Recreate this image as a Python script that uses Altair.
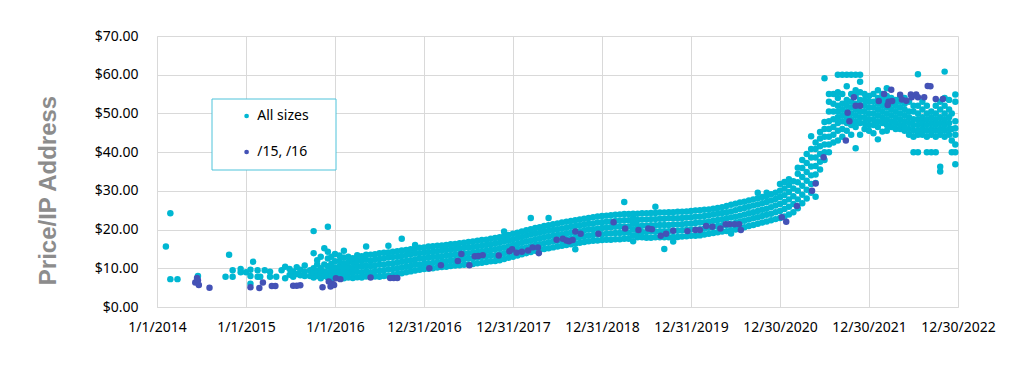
import altair as alt
import pandas as pd

CYAN = "#00B7D2"
DARK = "#4452B6"

series_names = ["All sizes", "/15, /16"]

x_tick_years = list(range(2014, 2024))
x_tick_labels = ["1/1/2014", "1/1/2015", "1/1/2016", "12/31/2016", "12/31/2017",
                 "12/31/2018", "12/31/2019", "12/30/2020", "12/30/2021", "12/30/2022"]
y_ticks = [0, 10, 20, 30, 40, 50, 60, 70]

# "All sizes" — (decimal year, [prices at that date])
all_early = [
    (2014.10, [15.6]), (2014.15, [24.2, 7.2]), (2014.23, [7.2]), (2014.46, [8.0]),
    (2014.77, [7.8]), (2014.81, [13.5]), (2014.85, [9.5, 7.8]), (2014.94, [9.8, 9.0]),
    (2015.00, [9.0]), (2015.05, [9.6, 8.0, 6.0]), (2015.08, [11.7]), (2015.13, [9.5, 7.8]),
    (2015.16, [7.8]), (2015.21, [9.5]), (2015.27, [9.1, 7.8]), (2015.34, [7.8]),
    (2015.40, [9.5]), (2015.44, [10.4, 7.4]), (2015.49, [9.8, 8.3]), (2015.53, [9.2, 7.8]),
    (2015.57, [8.5, 10.3]), (2015.61, [9.6, 8.2]), (2015.66, [10.7, 9.1, 8.0]), (2015.72, [9.5, 8.0]),
    (2015.76, [19.6, 13.9, 10.0, 8.8, 7.6]), (2015.80, [12.1, 11.0, 9.3, 8.0]),
    (2015.84, [13.0, 10.0, 8.5, 7.4]), (2015.88, [15.2, 11.0, 9.2, 8.0]),
    (2015.92, [20.7, 14.3, 12.5, 10.5, 9.0, 7.6]), (2015.96, [13.0, 11.2, 9.8, 8.5, 7.4]),
    (2016.00, [13.7, 11.8, 10.2, 9.0, 7.8]),
]

all_band = [
    (2016.05, [7.8, 9.2, 10.5, 11.9, 13.3]),
    (2016.10, [7.4, 8.6, 10.0, 11.3, 12.8, 14.5]),
    (2016.15, [7.6, 9.0, 10.3, 11.6, 13.0]),
    (2016.20, [7.5, 8.8, 10.1, 11.5, 12.6]),
    (2016.25, [7.7, 9.1, 10.6, 12.0, 13.4]),
    (2016.30, [7.6, 8.9, 10.4, 11.8, 13.1]),
    (2016.35, [7.9, 9.3, 10.7, 12.2, 13.5, 15.6]),
    (2016.40, [7.8, 9.0, 10.5, 11.9, 13.5]),
    (2016.45, [7.9, 9.3, 10.8, 12.3, 13.6]),
    (2016.50, [7.8, 9.3, 10.9, 12.4, 13.9]),
    (2016.55, [8.0, 9.5, 11.0, 12.6, 14.0]),
    (2016.60, [8.1, 9.7, 11.2, 12.8, 14.1, 15.8]),
    (2016.65, [8.3, 9.8, 11.3, 12.9, 14.3]),
    (2016.70, [8.5, 10.0, 11.5, 13.0, 14.4]),
    (2016.75, [8.7, 10.2, 11.7, 13.2, 14.6, 17.6]),
    (2016.80, [9.0, 10.4, 11.9, 13.4, 14.7]),
    (2016.85, [9.2, 10.6, 12.1, 13.6, 14.9]),
    (2016.90, [9.4, 10.9, 12.3, 13.8, 15.1, 16.0]),
    (2016.95, [9.6, 11.0, 12.5, 13.9, 15.3]),
    (2017.00, [9.8, 11.2, 12.6, 14.0, 15.4]),
    (2017.05, [9.9, 11.3, 12.8, 14.2, 15.6]),
    (2017.10, [10.0, 11.4, 12.9, 14.3, 15.7]),
    (2017.15, [10.2, 11.6, 13.0, 14.4, 15.8]),
    (2017.20, [10.3, 11.7, 13.1, 14.6, 15.9]),
    (2017.25, [10.4, 11.8, 13.3, 14.7, 16.0]),
    (2017.30, [10.6, 12.0, 13.4, 14.8, 16.2]),
    (2017.35, [10.7, 12.1, 13.5, 15.0, 16.3]),
    (2017.40, [10.8, 12.2, 13.7, 15.1, 16.5]),
    (2017.45, [10.9, 12.4, 13.8, 15.3, 16.6]),
    (2017.50, [11.0, 12.5, 13.9, 15.4, 16.8]),
    (2017.55, [11.1, 12.6, 14.1, 15.5, 16.9]),
    (2017.60, [11.3, 12.8, 14.2, 15.7, 17.1]),
    (2017.65, [11.4, 12.9, 14.4, 15.8, 17.3]),
    (2017.70, [11.6, 13.1, 14.5, 16.0, 17.4]),
    (2017.75, [11.8, 13.3, 14.7, 16.2, 17.6]),
    (2017.80, [11.9, 13.4, 14.9, 16.4, 17.8]),
    (2017.85, [12.1, 13.6, 15.1, 16.6, 18.0]),
    (2017.90, [12.4, 13.9, 15.4, 16.9, 18.3, 19.5]),
    (2017.95, [12.7, 14.2, 15.7, 17.2, 18.6]),
    (2018.00, [13.0, 14.5, 16.0, 17.5, 18.9]),
    (2018.05, [13.3, 14.8, 16.3, 17.8, 19.2]),
    (2018.10, [13.6, 15.1, 16.6, 18.1, 19.5]),
    (2018.15, [13.9, 15.4, 16.9, 18.4, 19.8]),
    (2018.20, [14.2, 15.7, 17.2, 18.7, 20.1, 23.0]),
    (2018.25, [14.5, 16.0, 17.5, 19.0, 20.4]),
    (2018.30, [14.7, 16.2, 17.7, 19.2, 20.6]),
    (2018.35, [15.0, 16.5, 18.0, 19.5, 20.9]),
    (2018.40, [15.2, 16.7, 18.2, 19.7, 21.1, 23.0]),
    (2018.45, [15.4, 16.9, 18.4, 19.9, 21.4]),
    (2018.50, [15.6, 17.1, 18.6, 20.1, 21.6]),
    (2018.55, [15.8, 17.3, 18.8, 20.3, 21.8]),
    (2018.60, [16.0, 17.5, 19.0, 20.5, 22.0]),
    (2018.65, [16.2, 17.7, 19.2, 20.7, 22.2]),
    (2018.70, [14.9, 16.4, 17.9, 19.4, 20.9, 22.4]),
    (2018.75, [16.6, 18.1, 19.6, 21.1, 22.6]),
    (2018.80, [16.8, 18.3, 19.8, 21.3, 22.8]),
    (2018.85, [17.0, 18.5, 20.0, 21.5, 23.0]),
    (2018.90, [17.1, 18.6, 20.1, 21.6, 23.2]),
    (2018.95, [17.2, 18.7, 20.2, 21.8, 23.4]),
    (2019.00, [17.3, 18.8, 20.4, 21.9, 23.5]),
    (2019.05, [17.4, 18.9, 20.5, 22.0, 23.6]),
    (2019.10, [17.4, 19.0, 20.6, 22.1, 23.7]),
    (2019.15, [17.5, 19.1, 20.7, 22.2, 23.8]),
    (2019.20, [17.5, 19.1, 20.7, 22.3, 23.9]),
    (2019.25, [17.6, 19.2, 20.8, 22.4, 24.0, 27.1]),
    (2019.30, [17.6, 19.2, 20.8, 22.4, 24.0]),
    (2019.35, [17.0, 18.5, 20.0, 21.5, 23.0, 24.1]),
    (2019.40, [18.0, 19.3, 20.9, 22.5, 24.1]),
    (2019.45, [18.0, 19.4, 21.0, 22.6, 24.2]),
    (2019.50, [17.9, 19.4, 21.0, 22.6, 24.2]),
    (2019.55, [17.9, 19.5, 21.1, 22.7, 24.3]),
    (2019.60, [18.0, 19.5, 21.1, 22.7, 24.3, 25.9]),
    (2019.65, [18.0, 19.6, 21.2, 22.8, 24.4]),
    (2019.70, [15.0, 18.0, 19.6, 21.2, 22.8, 24.4]),
    (2019.75, [18.0, 19.6, 21.2, 22.9, 24.5]),
    (2019.80, [16.9, 18.1, 19.7, 21.3, 22.9, 24.5]),
    (2019.85, [18.1, 19.7, 21.3, 22.9, 24.6]),
    (2019.90, [18.2, 19.8, 21.4, 23.0, 24.6]),
    (2019.95, [18.3, 19.9, 21.5, 23.1, 24.7]),
    (2020.00, [18.4, 20.0, 21.6, 23.2, 24.8]),
    (2020.05, [18.4, 20.0, 21.7, 23.3, 24.9]),
    (2020.10, [18.5, 20.1, 21.8, 23.4, 25.0]),
    (2020.15, [18.7, 20.3, 21.9, 23.5, 25.1]),
    (2020.20, [18.9, 20.5, 22.1, 23.7, 25.2]),
    (2020.25, [19.1, 20.7, 22.3, 23.9, 25.4]),
    (2020.30, [19.3, 20.9, 22.5, 24.1, 25.6]),
    (2020.35, [19.5, 21.1, 22.7, 24.3, 25.8]),
    (2020.40, [19.6, 21.2, 22.9, 24.5, 26.1]),
    (2020.45, [19.0, 19.8, 21.4, 23.1, 24.7, 26.4]),
    (2020.50, [20.0, 21.7, 23.3, 25.0, 26.7]),
    (2020.55, [20.3, 22.0, 23.6, 25.3, 27.0]),
    (2020.60, [20.6, 22.3, 23.9, 25.6, 27.2]),
    (2020.65, [20.9, 22.6, 24.2, 25.9, 27.5]),
    (2020.70, [21.2, 22.9, 24.5, 26.2, 27.8]),
    (2020.75, [21.5, 23.2, 24.8, 26.5, 28.1, 29.5]),
    (2020.80, [21.8, 23.5, 25.1, 26.8, 28.4]),
    (2020.85, [22.1, 23.8, 25.4, 27.1, 28.7, 29.5]),
    (2020.90, [22.4, 24.1, 25.8, 27.5, 29.1]),
    (2020.95, [22.7, 24.5, 26.2, 27.9, 29.5]),
    (2021.00, [23.0, 24.8, 26.6, 28.4, 30.0, 31.8]),
    (2021.05, [23.4, 25.3, 27.1, 28.9, 30.6, 32.3]),
    (2021.10, [23.9, 25.9, 27.8, 29.7, 31.5, 33.0]),
    (2021.15, [24.5, 26.6, 28.6, 30.6, 32.5]),
    (2021.20, [25.5, 27.8, 30.0, 32.2, 34.4, 36.0]),
    (2021.25, [26.8, 29.0, 31.3, 33.6, 35.9, 38.0]),
    (2021.30, [28.0, 30.3, 32.6, 34.9, 37.2, 39.5]),
    (2021.35, [29.5, 31.8, 34.0, 36.3, 38.6, 40.8, 44.1]),
    (2021.40, [28.5, 32.0, 34.2, 36.4, 38.6, 40.8, 42.5]),
    (2021.45, [35.5, 37.5, 39.5, 41.5, 43.5, 45.2]),
    (2021.50, [38.0, 40.0, 42.0, 44.0, 46.0, 47.8, 59.1]),
    (2021.55, [40.0, 42.0, 44.0, 46.0, 48.0, 50.5, 53.0, 55.0]),
]

all_plateau = [
    (2021.60, [42.5, 44.5, 46.5, 48.5, 50.5, 52.5, 55.0]),
    (2021.65, [43.0, 45.5, 47.5, 49.0, 50.5, 52.0, 54.0, 55.5, 60.0]),
    (2021.70, [44.0, 46.0, 48.0, 49.5, 51.0, 52.5, 55.0, 60.0]),
    (2021.75, [45.5, 47.5, 49.0, 50.5, 52.0, 53.5, 57.0, 60.0]),
    (2021.80, [44.5, 47.0, 48.5, 50.0, 51.5, 53.0, 55.0, 60.0]),
    (2021.85, [41.0, 46.5, 48.0, 49.5, 51.0, 52.5, 54.5, 56.0, 60.0]),
    (2021.90, [44.5, 47.5, 49.0, 50.5, 52.0, 53.5, 55.5, 58.2, 60.0]),
    (2021.95, [46.0, 47.5, 49.0, 50.5, 52.0, 53.5, 55.0]),
    (2022.00, [45.5, 47.0, 48.5, 50.0, 51.5, 53.0, 54.5]),
    (2022.05, [44.9, 47.0, 48.5, 50.0, 51.5, 53.0, 55.0]),
    (2022.10, [43.3, 46.5, 48.0, 49.5, 51.0, 52.5, 54.0, 56.0]),
    (2022.15, [45.3, 47.5, 49.0, 50.5, 52.0, 53.5, 55.0]),
    (2022.20, [45.5, 47.0, 48.5, 50.0, 51.5, 53.0, 54.5, 56.5]),
    (2022.25, [46.5, 48.0, 49.5, 51.0, 52.5, 54.0]),
    (2022.30, [46.0, 47.5, 49.0, 50.5, 52.0, 53.5]),
    (2022.35, [46.0, 47.0, 48.5, 50.0, 51.5, 53.0, 54.5]),
    (2022.40, [45.5, 46.5, 48.0, 49.5, 51.0, 52.5, 54.0]),
    (2022.45, [44.5, 46.0, 47.5, 49.0, 50.5, 53.0]),
    (2022.50, [40.0, 44.0, 45.5, 47.0, 48.5, 50.5, 52.0]),
    (2022.55, [40.0, 44.5, 45.5, 47.0, 48.5, 50.0, 52.0, 60.1]),
    (2022.60, [44.5, 46.0, 47.5, 49.0, 51.0, 53.0]),
    (2022.65, [40.0, 44.0, 45.5, 47.0, 48.5, 50.0, 52.0]),
    (2022.70, [40.0, 44.5, 46.0, 47.5, 49.0, 50.5]),
    (2022.75, [40.0, 44.0, 45.5, 47.0, 48.5, 50.0, 52.0]),
    (2022.80, [35.0, 36.2, 44.5, 46.0, 47.5, 49.0, 51.0, 53.0]),
    (2022.85, [44.0, 45.5, 47.0, 48.5, 50.0, 52.0, 54.0, 60.8]),
    (2022.90, [44.5, 46.0, 47.5, 49.0, 51.0, 53.5]),
    (2022.93, [40.0, 43.0, 46.0, 50.0]),
    (2022.97, [40.0, 36.9, 42.0, 44.5, 46.2, 48.0, 53.0, 54.9]),
]

# "/15, /16"
dark_years = [
    2014.43, 2014.45, 2014.46, 2014.47, 2014.59,
    2015.05, 2015.15, 2015.19, 2015.29, 2015.33,
    2015.53, 2015.57, 2015.61, 2015.86,
    2015.93, 2015.95, 2015.97, 2015.99,
    2016.01, 2016.06,
    2016.40, 2016.62, 2016.66, 2016.70,
    2017.06, 2017.19, 2017.38, 2017.42, 2017.51,
    2017.57, 2017.61, 2017.66, 2017.84, 2017.96, 2017.99,
    2018.04, 2018.10, 2018.17, 2018.22, 2018.28, 2018.29,
    2018.49, 2018.56, 2018.60, 2018.63, 2018.67, 2018.70, 2018.76,
    2018.96, 2019.13, 2019.26, 2019.41, 2019.52, 2019.56,
    2019.66, 2019.72, 2019.80, 2019.96, 2020.05, 2020.10,
    2020.17, 2020.24, 2020.33, 2020.39, 2020.43, 2020.49, 2020.54, 2020.56,
    2021.02, 2021.07, 2021.19, 2021.36, 2021.40, 2021.49,
    2021.74, 2021.78, 2021.76, 2021.83, 2021.85, 2021.90,
    2022.11, 2022.17, 2022.22, 2022.21, 2022.25, 2022.26,
    2022.35, 2022.37, 2022.42, 2022.47, 2022.48, 2022.53, 2022.55,
    2022.62, 2022.66, 2022.69, 2022.75, 2022.83,
]
dark_prices = [
    6.3, 7.5, 6.9, 5.7, 5.0,
    5.1, 4.9, 6.3, 5.4, 5.4,
    5.5, 5.5, 5.6, 5.1,
    6.6, 5.3, 6.0, 5.7,
    7.4, 7.2,
    7.6, 7.5, 7.5, 7.5,
    10.0, 10.8, 11.9, 13.7, 10.8,
    13.1, 13.2, 13.4, 13.3, 14.4, 14.9,
    14.0, 14.3, 14.6, 15.4, 15.4, 13.9,
    17.4, 17.6, 17.2, 17.0, 17.3, 19.5, 18.9,
    18.9, 21.9, 20.3, 19.9, 20.3, 20.1,
    18.4, 18.9, 19.7, 19.6, 19.9, 19.9,
    20.9, 20.7, 20.3, 21.4, 21.4, 21.4, 21.4, 19.9,
    23.2, 22.0, 26.1, 30.0, 31.9, 38.7,
    43.0, 48.0, 50.2, 54.2, 52.0, 52.0,
    53.2, 55.0, 53.0, 52.2, 56.1, 53.2,
    54.8, 53.6, 53.3, 54.9, 54.2, 54.9, 54.2,
    54.2, 57.1, 57.0, 53.7, 53.7,
]

rows = []
for yr, prices in all_early + all_band + all_plateau:
    for p in prices:
        rows.append({"year": yr, "price": p, "series": series_names[0]})
for yr, p in zip(dark_years, dark_prices):
    rows.append({"year": yr, "price": p, "series": series_names[1]})
df = pd.DataFrame(rows)

label_expr = "[" + ",".join(f"'{s}'" for s in x_tick_labels) + "][round(datum.value) - 2014]"

points = alt.Chart(df).mark_circle(size=42, opacity=1).encode(
    x=alt.X("year:Q",
            scale=alt.Scale(domain=[2014, 2023], nice=False, zero=False),
            axis=alt.Axis(values=x_tick_years, labelExpr=label_expr, title=None,
                          labelPadding=13, labelFlush=False, labelOverlap=False)),
    y=alt.Y("price:Q",
            scale=alt.Scale(domain=[0, 70], nice=False),
            axis=alt.Axis(values=y_ticks, format="$.2f", title="Price/IP Address",
                          labelPadding=19, titleFont="Liberation Sans", titleFontSize=24,
                          titleFontWeight="bold", titleColor="#8C8C8C", titleAngle=270,
                          titleAlign="center", titleBaseline="middle",
                          titleX=-109, titleY=154)),
    color=alt.Color("series:N",
                    scale=alt.Scale(domain=series_names, range=[CYAN, DARK]),
                    legend=alt.Legend(title=None, orient="none", legendX=82.6, legendY=73,
                                      labelFont="Noto Sans", labelFontSize=14, labelColor="#000000",
                                      symbolType="circle", symbolSize=22, symbolStrokeWidth=0,
                                      symbolOpacity=1, rowPadding=22, labelOffset=3.7, padding=0)),
)

frame = alt.Chart(pd.DataFrame({"k": [0]})).mark_rect(
    fill="white", stroke="#4FC3DA", strokeWidth=1
).encode(x=alt.value(55), x2=alt.value(179), y=alt.value(63), y2=alt.value(134))

chart = alt.layer(frame, points).properties(
    width=801, height=271,
    autosize=alt.AutoSizeParams(type="none"),
    padding={"left": 149, "top": 28, "right": 50, "bottom": 50},
).configure_view(stroke=None).configure_axis(
    gridColor="#D9D9D9", domainColor="#D9D9D9", labelFont="Noto Sans", labelFontSize=14,
    labelColor="#000000", ticks=False, tickSize=0, grid=True
)

chart.save("out.html", embed_options={"renderer": "svg", "actions": False})
